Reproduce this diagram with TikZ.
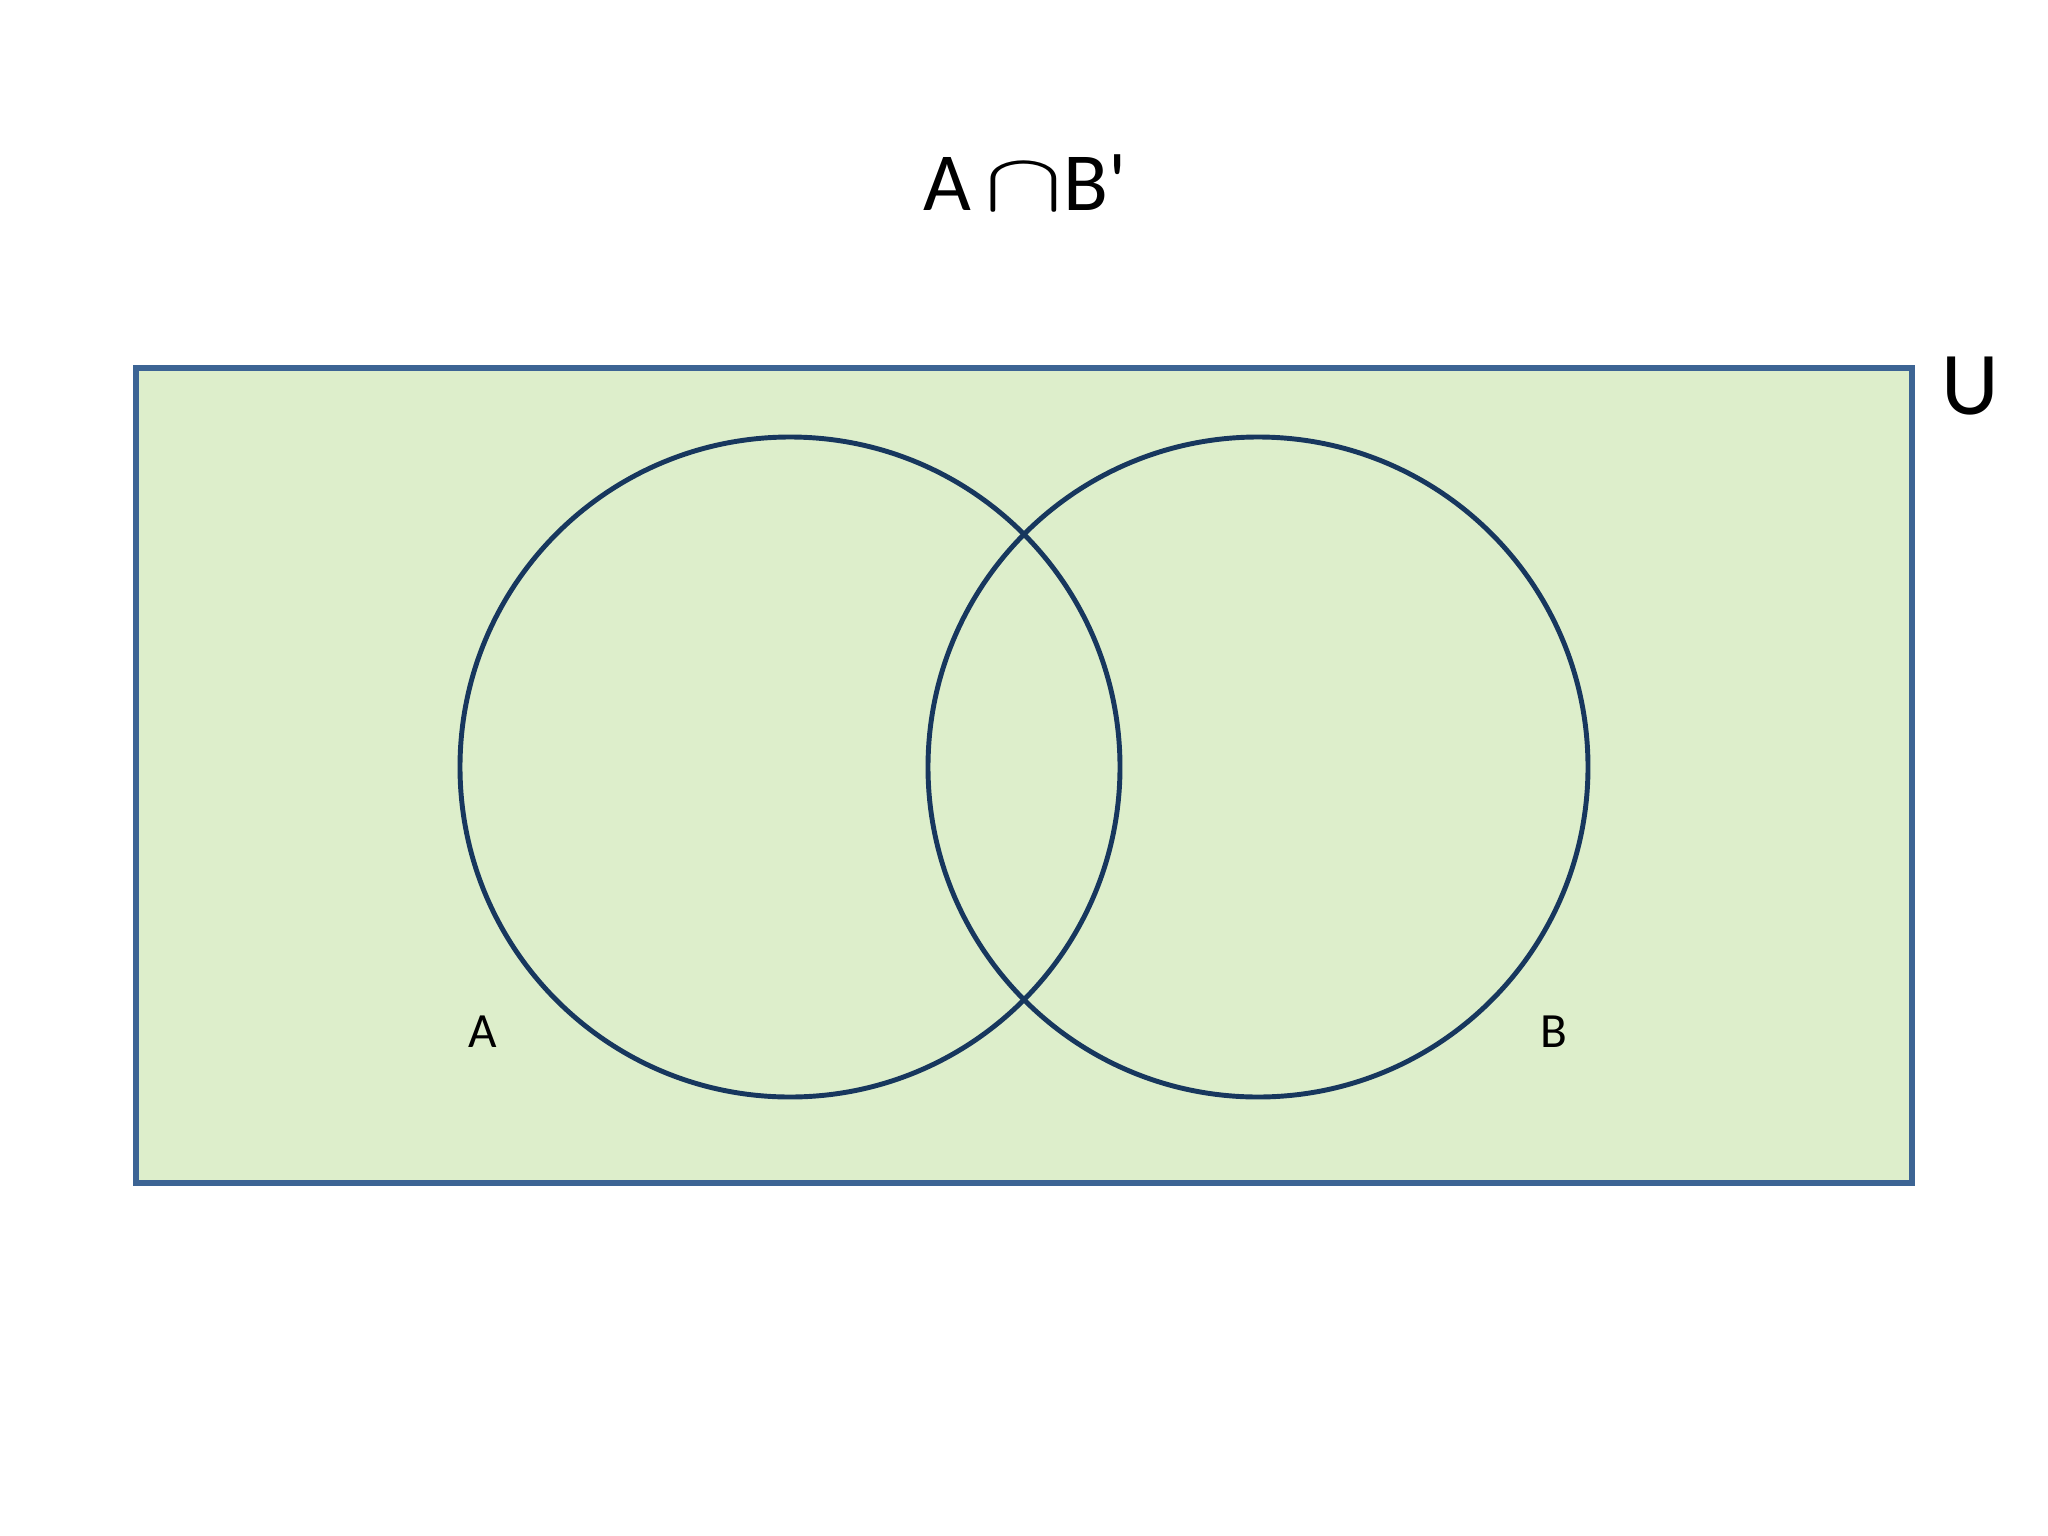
\documentclass[tikz,border=0pt]{standalone}
\usepackage{fontspec}
\setmainfont{Carlito}
\usepackage{tikz}
\usetikzlibrary{positioning}
\definecolor{univfill}{HTML}{DDEECB}
\definecolor{univline}{HTML}{3C6494}
\definecolor{setline}{HTML}{17375E}
\tikzset{setcirc/.style={circle,draw=setline,line width=1.4pt,minimum size=660*0.01cm,inner sep=0pt}}
\tikzset{setlab/.style={font=\fontsize{14}{16}\selectfont,inner sep=0pt}}
\begin{document}
\begin{tikzpicture}[x=0.01cm,y=-0.01cm]
    \useasboundingbox (0,0) rectangle (2048,1536);
    \node[draw=univline,fill=univfill,line width=1.6pt,minimum width=1776*0.01cm,minimum height=815*0.01cm,inner sep=0pt] (univ) at (1024,775.5) {};
    \node[setcirc] (ca) at (790,767) {};
    \node[setcirc] (cb) at (1258,767) {};
    \node[font=\fontsize{23.5}{26}\selectfont,inner sep=0pt] (title) at (1025,183) {A\,\scalebox{1.35}[0.95]{$\cap$}B\textquotesingle};
    \node[font=\fontsize{25.5}{28}\selectfont,inner sep=0pt] (u) at (1970,386) {U};
    \node[setlab] (la) at (483,1032) {A};
    \node[setlab] (lb) at (1554,1032) {B};
\end{tikzpicture}
\end{document}
